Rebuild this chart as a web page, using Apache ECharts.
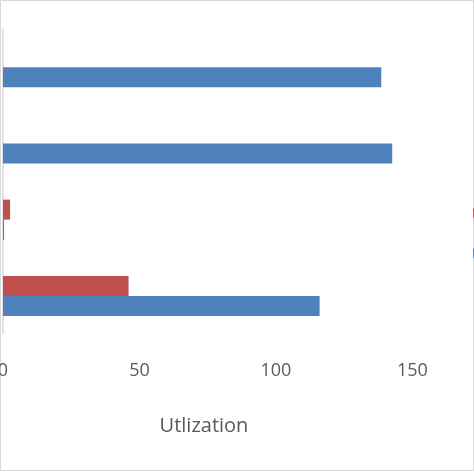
<!DOCTYPE html><html><head><meta charset="utf-8"><script src="https://cdn.jsdelivr.net/npm/echarts@6/dist/echarts.min.js"></script></head><body style="margin:0"><div id="c" style="width:474px;height:474px"></div><script>
const categories=['A','B','C','D'];
const redValues=[0,0,2.6,46];
const blueValues=[138.6,142.6,0.4,116];
const xTicks=[0,50,100,150];
const chart=echarts.init(document.getElementById('c'));
chart.setOption({
 animation:false,
 backgroundColor:'#fff',
 graphic:[{type:'rect',shape:{x:0.5,y:0.5,width:473,height:470},style:{fill:'none',stroke:'#d9d9d9',lineWidth:1}}],
 legend:{orient:'vertical',left:468,top:202,itemGap:28,itemWidth:12,itemHeight:12,textStyle:{fontSize:1,color:'#fff'},data:['Red','Blue']},
 grid:{left:3,right:7,top:29,bottom:140,containLabel:false,outerBoundsMode:'none'},
 xAxis:{type:'value',min:0,max:170,interval:50,splitLine:{show:false},axisLine:{show:false},axisTick:{show:false},
  axisLabel:{fontSize:18,color:'#595959',margin:28,showMaxLabel:false,fontFamily:'Open Sans',formatter:v=>xTicks.includes(v)?String(v):''},
  name:'Utlization',nameLocation:'middle',nameGap:82,nameTextStyle:{fontSize:20,color:'#595959',fontFamily:'Open Sans',padding:[0,62,0,0]}},
 yAxis:{type:'category',data:categories,inverse:true,axisLine:{lineStyle:{color:'#d9d9d9',width:1.5}},axisTick:{show:false},axisLabel:{show:false}},
 series:[
  {name:'Red',type:'bar',data:redValues,barWidth:20,barGap:'0%',itemStyle:{color:'#c0504d'}},
  {name:'Blue',type:'bar',data:blueValues,barWidth:20,barGap:'0%',itemStyle:{color:'#4f81bd'}}
 ]
});
</script></body></html>
